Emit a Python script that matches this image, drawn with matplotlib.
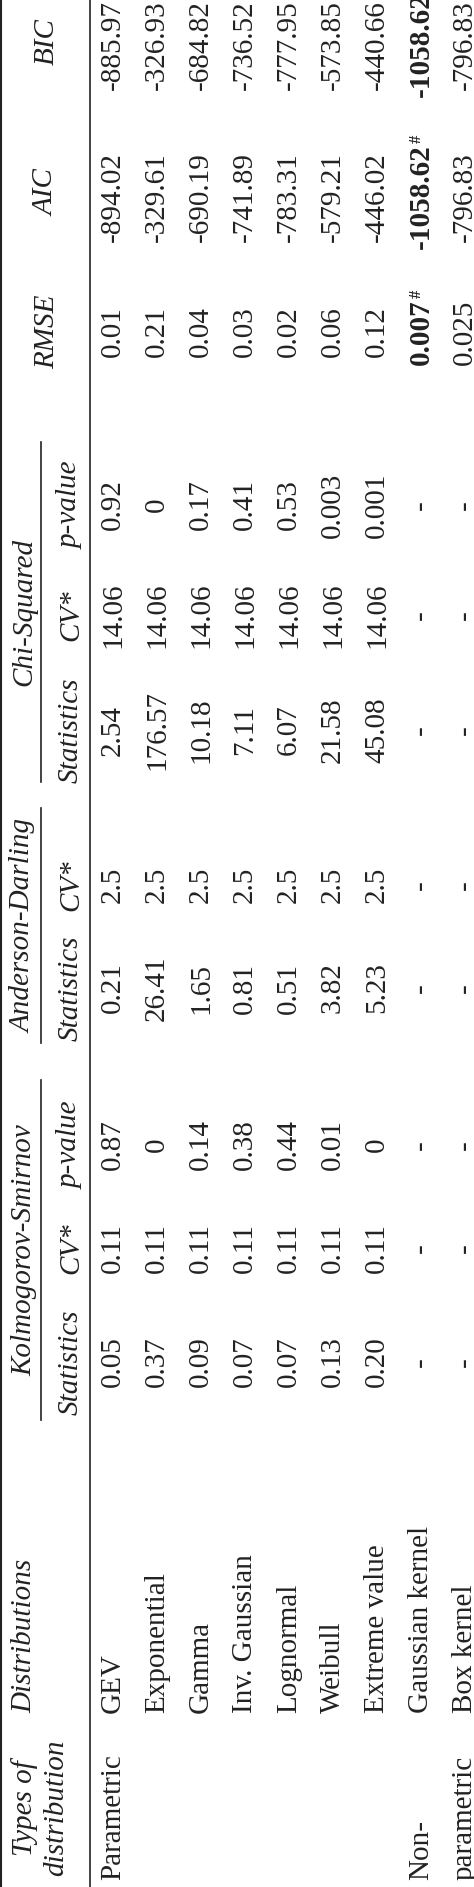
import matplotlib.pyplot as plt

plt.rcParams['font.family'] = ['Liberation Serif', 'DejaVu Serif']

# Table data
types = ["Parametric", "", "", "", "", "", "", "Non-", "parametric"]
dists = ["GEV", "Exponential", "Gamma", "Inv. Gaussian", "Lognormal",
         "Weibull", "Extreme value", "Gaussian kernel", "Box kernel"]
ks_stat = ["0.05", "0.37", "0.09", "0.07", "0.07", "0.13", "0.20", "-", "-"]
ks_cv = ["0.11"] * 7 + ["-", "-"]
ks_p = ["0.87", "0", "0.14", "0.38", "0.44", "0.01", "0", "-", "-"]
ad_stat = ["0.21", "26.41", "1.65", "0.81", "0.51", "3.82", "5.23", "-", "-"]
ad_cv = ["2.5"] * 7 + ["-", "-"]
cs_stat = ["2.54", "176.57", "10.18", "7.11", "6.07", "21.58", "45.08", "-", "-"]
cs_cv = ["14.06"] * 7 + ["-", "-"]
cs_p = ["0.92", "0", "0.17", "0.41", "0.53", "0.003", "0.001", "-", "-"]
rmse = ["0.01", "0.21", "0.04", "0.03", "0.02", "0.06", "0.12", "0.007", "0.025"]
aic = ["-894.02", "-329.61", "-690.19", "-741.89", "-783.31", "-579.21",
       "-446.02", "-1058.62", "-796.83"]
bic = ["-885.97", "-326.93", "-684.82", "-736.52", "-777.95", "-573.85",
       "-440.66", "-1058.62", "-796.83"]
best_row = 7  # bold row (Gaussian kernel)

# column centres along the rotated page, pixels from the top: (values, y, mark best with #)
cols = [(ks_stat, 1362, False), (ks_cv, 1248, False), (ks_p, 1145, False),
        (ad_stat, 988, False), (ad_cv, 885, False),
        (cs_stat, 730, False), (cs_cv, 615, False), (cs_p, 505, False),
        (rmse, 332, True), (aic, 197, True), (bic, 45, False)]
sub_heads = [("Statistics", 1362), ("CV*", 1248), ("p-value", 1145),
             ("Statistics", 988), ("CV*", 885),
             ("Statistics", 730), ("CV*", 615), ("p-value", 505)]
groups = [("Kolmogorov-Smirnov", 1080, 1420), ("Anderson-Darling", 808, 1043),
          ("Chi-Squared", 442, 782)]

W, H = 474, 1887
fig = plt.figure(figsize=(W / 100, H / 100), dpi=100)
ax = fig.add_axes([0, 0, 1, 1])
ax.set_xlim(0, W)
ax.set_ylim(H, 0)
ax.axis('off')

fs = 21
kw = dict(rotation=90, fontsize=fs, color='#222222')

row_x = [113 + 44 * i for i in range(len(dists))]

# header
ax.text(25, 1808, "Types of", ha='center', va='center', style='italic', **kw)
ax.text(56, 1808, "distribution", ha='center', va='center', style='italic', **kw)
ax.text(24, 1713, "Distributions", ha='center', va='bottom', style='italic', **kw)
for name, a, b in groups:
    ax.text(24, (a + b) / 2, name, ha='center', va='center', style='italic', **kw)
    ax.plot([41, 41], [a, b], color='#222222', lw=1.2)
for name, y in sub_heads:
    ax.text(71, y, name, ha='center', va='center', style='italic', **kw)
for name, y in [("RMSE", 332), ("AIC", 193), ("BIC", 42)]:
    ax.text(47, y, name, ha='center', va='center', style='italic', **kw)

ax.plot([1.5, 1.5], [0, H], color='#222222', lw=1.5)
ax.plot([90, 90], [0, H], color='#222222', lw=1.2)

# body
for i, x in enumerate(row_x):
    if types[i]:
        ax.text(x, 1880, types[i], ha='center', va='bottom', **kw)
    ax.text(x, 1713, dists[i], ha='center', va='bottom', **kw)
    for vals, y, mark in cols:
        bold = i == best_row and vals[i] != "-"
        t = ax.text(x, y, vals[i], ha='center', va='center',
                    fontweight='bold' if bold else 'normal', **kw)
        if bold and mark:
            ax.annotate("#", xy=(0.0, 1.0), xycoords=t, xytext=(1, 1),
                        textcoords='offset points', ha='left', va='bottom',
                        rotation=90, fontsize=12, fontweight='bold', color='#222222')

fig.savefig("out.png", dpi=100)
